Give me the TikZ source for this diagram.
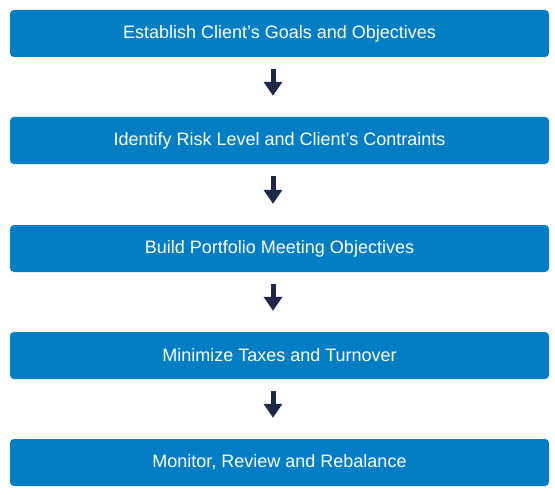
\documentclass[tikz,border=0pt]{standalone}
\usepackage{fontspec}
\setmainfont{Liberation Sans}
\definecolor{boxblue}{RGB}{0,125,195}
\definecolor{arrownavy}{RGB}{30,40,72}
\usetikzlibrary{arrows.meta}

\begin{document}
\begin{tikzpicture}[x=1pt, y=-1pt,
    stepbox/.style={fill=boxblue, rounded corners=4pt, minimum width=539pt, minimum height=47pt,
        text=white, font=\fontsize{18}{21}\selectfont, inner sep=0pt},
    flowarrow/.style={arrownavy, line width=5pt, -{Triangle[width=18pt, length=14pt]},
        shorten <=12pt, shorten >=21pt}]
    % Canvas
    \useasboundingbox (0,0) rectangle (555,495);

    % Process steps (top to bottom)
    \foreach \i/\y/\txt in {1/33.5/{Establish Client’s Goals and Objectives},
                            2/140.5/{Identify Risk Level and Client’s Contraints},
                            3/248.5/{Build Portfolio Meeting Objectives},
                            4/355.5/{Minimize Taxes and Turnover},
                            5/462.5/{Monitor, Review and Rebalance}} {
        \node[stepbox] (s\i) at (279.5,\y) {\txt};
    }

    % Arrows between steps (slightly left of centre)
    \foreach \i [evaluate=\i as \j using int(\i+1)] in {1,...,4} {
        \draw[flowarrow] ([xshift=-6.5pt]s\i.south) -- ([xshift=-6.5pt]s\j.north);
    }
\end{tikzpicture}
\end{document}
